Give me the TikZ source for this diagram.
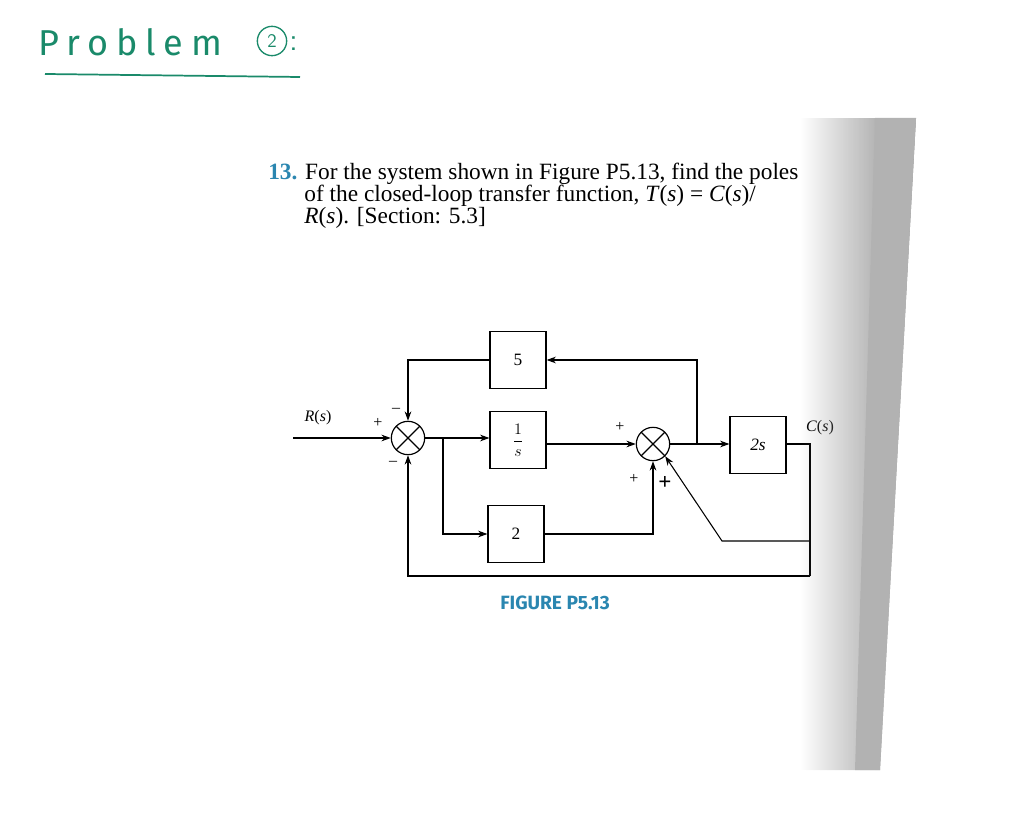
\documentclass[tikz,border=0pt]{standalone}
\usepackage{fontspec}
\setmainfont{Liberation Serif}
\newfontfamily\figfont{Fira Sans}
\newfontfamily\handfont[LetterSpace=22]{Fira Sans}
\usetikzlibrary{arrows.meta,fadings}
\definecolor{figblue}{HTML}{2A86B0}
\definecolor{hand}{HTML}{1A8A6A}
\begin{document}
\begin{tikzpicture}[x=0.75pt,y=-0.75pt,
  blk/.style={draw,line width=0.9pt,minimum width=42pt,minimum height=43pt,inner sep=0pt,font=\fontsize{13}{14}\selectfont},
  sumj/.style={draw,circle,line width=0.9pt,minimum size=25pt,inner sep=0pt,path picture={\draw[line width=0.9pt] (path picture bounding box.north west)--(path picture bounding box.south east) (path picture bounding box.north east)--(path picture bounding box.south west);}},
  ln/.style={line width=0.8pt},
  ar/.style={ln,-{Stealth[length=7pt,width=5pt]}},
  sg/.style={font=\large}]
\useasboundingbox (0,0) rectangle (1024,816);
% header
\node[anchor=west,text=hand,font=\handfont\fontsize{27}{28}\selectfont,inner sep=0pt] (title) at (38,42) {Problem};
\node[draw=hand,circle,text=hand,line width=1pt,inner sep=1pt,minimum size=22pt,font=\sffamily\Large] (two) at (272,41) {2};
\node[anchor=west,text=hand,font=\sffamily\fontsize{24}{24}\selectfont,inner sep=0pt] (colon) at (289,44) {:};
\draw[hand,line width=1.3pt] (45,74) -- (300,77);
\node[anchor=north west,align=left,font=\fontsize{17.5}{16.5}\selectfont,inner sep=0pt] (txt) at (268,163)
 {\textbf{\color{figblue}13.} For the system shown in Figure P5.13, find the poles\\
 \hspace*{1.55em}of the closed-loop transfer function, \textit{T}(\textit{s}) = \textit{C}(\textit{s})/\\
 \hspace*{1.55em}\textit{R}(\textit{s}). [Section: 5.3]};
% blocks
\node[blk] (b5) at (518,360) {5};
\node[blk] (bs) at (518,440) {$\displaystyle\frac{1}{s}$};
\node[blk] (b2) at (516,534) {2};
\node[blk] (b2s) at (758,445) {\textit{2s}};
\node[sumj] (s1) at (408,438) {};
\node[sumj] (s2) at (653,444) {};
\coordinate (rin) at (293,438);
\node[font=\large] (rl) at (318,418) {\textit{R}(\textit{s})};
\node[font=\large] (cl) at (820,428) {\textit{C}(\textit{s})};
\coordinate (p1) at (443,438);
\coordinate (p2) at (697,444);
\coordinate (out) at (810,444);
\coordinate (t1) at (810,541);
\coordinate (t2) at (810,576);
\coordinate (d1) at (722,541);
% connectors
\draw[ar] (rin) -- (s1.west);
\draw[ar] (s1.east) -- (s1.east -| bs.west);
\draw[ar] (p1) |- (b2.west);
\draw[ar] (bs.east |- s2.west) -- (s2.west);
\draw[ar] (s2.east) -- (s2.east -| b2s.west);
\draw[ar] (p2) |- (b5.east);
\draw[ar] (b5.west) -| (s1.north);
\draw[ar] (b2.east) -| (s2.south);
\draw[ln] (b2s.east |- out) -- (out) -- (t2);
\draw[ar] (t1) -- (d1) -- (s2.south east);
\draw[ar] (t2) -| (s1.south);
% signs
\node[sg] at (378,423) {+};
\node[sg] at (396,410) {\textendash};
\node[sg] at (393,463) {\textendash};
\node[sg] at (620,427) {+};
\node[sg] at (634,479) {+};
\node[font=\LARGE\bfseries] at (665,483) {+};
\node[text=figblue,font=\figfont\bfseries\Large] (fig) at (555,603) {FIGURE P5.13};
% page shadow
\fill[black!45,path fading=west] (800,118) -- (916,118) -- (880,770) -- (800,770) -- cycle;
\fill[black!30] (875,118) -- (916,118) -- (880,770) -- (855,770) -- cycle;
\end{tikzpicture}
\end{document}
